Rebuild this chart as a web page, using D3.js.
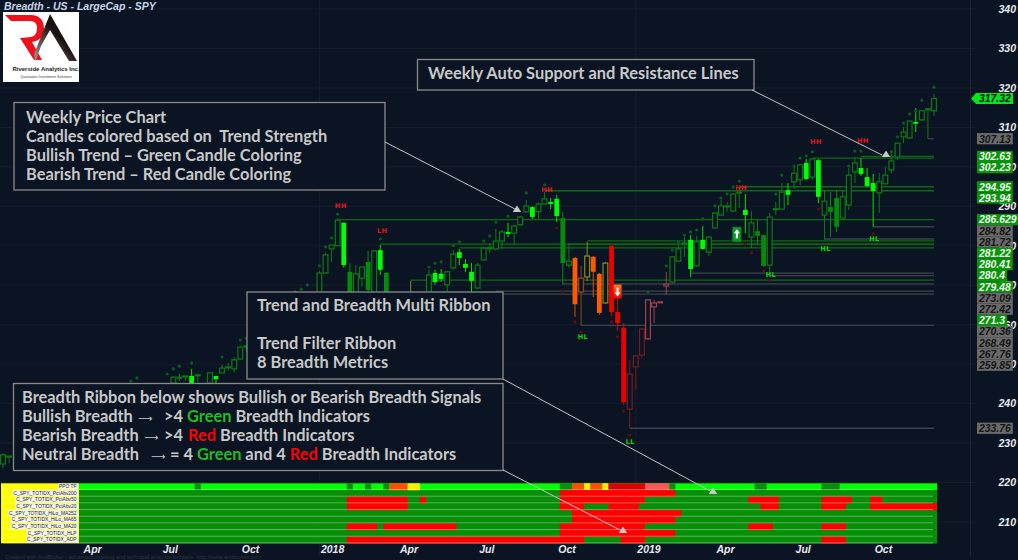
<!DOCTYPE html>
<html><head><meta charset="utf-8">
<style>html,body{margin:0;padding:0;background:#0a1422;overflow:hidden}svg{display:block}</style>
<script src="https://cdn.jsdelivr.net/npm/d3@7/dist/d3.min.js"></script>
</head><body><svg id="c" width="1018" height="560"></svg>
<script>
const firstWeek = "2017-01-02";
const priceTicks = [340,330,320,310,300,290,280,270,260,250,240,230,220,210];
const dateTicks = ["2017-04-03","2017-07-03","2017-10-02","2018-01-01","2018-04-02","2018-07-02","2018-10-01","2018-12-31","2019-04-01","2019-07-01","2019-09-30"];
const dateLabels = ["Apr","Jul","Oct","2018","Apr","Jul","Oct","2019","Apr","Jul","Oct"];

const candleWeeks = [0,1,28,29,30,31,32,34,35,36,37,38,39,40,
 52,53,54,55,56,57,58,59,60,61,62,63,67,
 70,71,72,73,74,75,76,77,78,79,80,81,82,83,84,85,86,87,88,89,90,91,92,93,94,95,96,97,98,99,100,101,102,103,104,105,106,107,108,109,
 110,111,112,113,114,115,116,117,118,119,120,121,122,123,124,125,126,127,128,129,130,131,132,133,134,135,136,137,138,139,140,141,142,143,144,145,146,147,148,149,150,151,152,153];
const opens = [224.7,226.6,245.2,246.6,246.9,247.0,247.2,245.2,247.0,247.8,249.2,248.8,251.3,254.5,
 266.3,273.1,279.2,280.0,285.8,273.4,266.5,271.8,275.9,266.0,278.9,273.1,262.0,
 266.0,273.1,272.9,270.1,274.4,278.4,275.4,273.4,269.3,276.4,279.4,279.2,281.2,283.5,283.2,285.3,288.6,289.8,288.6,290.6,291.1,291.9,287.0,275.1,276.9,268.3,272.1,277.2,272.9,265.5,280.0,263.2,259.2,238.6,249.3,252.3,256.4,264.5,265.7,269.8,
 270.8,276.1,280.6,281.5,274.9,281.5,278.4,284.5,287.8,290.0,288.8,293.4,289.1,282.2,283.7,282.7,275.1,289.3,289.3,294.1,296.2,296.7,301.0,297.4,301.7,287.8,289.8,292.1,287.0,290.3,298.7,299.7,297.4,295.9,293.4,295.7,299.2,302.5,307.6,307.3,311.4,311.9,314.7,314.2];
const closes = [227.0,226.7,246.7,246.7,247.0,245.2,247.3,247.8,246.2,249.0,249.3,251.1,254.3,254.6,
 273.1,277.7,280.2,286.5,275.1,267.0,272.9,274.6,268.8,278.7,273.9,266.5,263.0,
 272.6,270.8,271.6,273.4,277.9,276.9,274.4,271.1,275.1,279.4,279.5,281.2,283.5,283.0,285.0,287.3,290.1,287.3,290.6,291.9,290.6,287.5,275.6,276.1,265.2,271.8,277.4,273.4,263.0,275.6,263.2,260.4,240.4,247.5,252.1,258.9,266.3,265.5,265.8,270.3,
 277.2,279.2,280.7,274.1,281.0,279.2,282.2,288.3,290.1,290.1,293.1,293.6,287.8,285.8,282.5,274.9,287.3,289.4,293.6,292.9,298.4,300.5,296.9,302.0,292.4,291.3,288.6,284.8,292.4,297.9,301.0,298.2,295.1,293.9,296.2,297.9,301.5,306.0,308.8,311.6,310.9,314.2,314.6,317.32];
const highs = [227.5,226.7,247.0,247.5,247.0,248.8,247.3,247.8,247.0,249.8,250.3,251.8,254.8,254.8,
 273.6,278.2,280.2,287.0,286.0,275.6,275.1,274.6,278.7,279.0,280.2,273.4,271.1,
 273.9,273.9,274.1,273.6,278.9,279.2,276.6,275.6,275.6,279.6,280.7,284.3,284.0,285.8,285.3,287.5,291.6,290.0,291.0,293.6,292.1,292.9,288.6,280.7,277.2,274.9,281.0,277.4,273.1,275.9,280.1,268.5,260.4,251.1,252.3,259.0,266.4,266.3,265.8,273.4,
 277.4,280.2,282.2,282.7,282.5,285.0,282.4,288.5,291.6,291.1,293.3,294.6,293.1,288.8,286.8,282.9,288.3,291.1,295.9,295.9,300.0,300.7,302.0,302.2,302.0,294.1,293.6,294.1,293.9,299.7,302.5,302.2,299.7,298.2,298.4,300.0,304.3,306.2,310.1,311.8,314.9,314.4,314.9,318.5];
const lows = [223.7,225.0,245.2,245.7,245.7,245.2,245.2,245.2,245.2,247.8,248.3,248.0,251.1,253.3,
 265.0,273.1,275.9,280.0,274.5,266.0,266.0,269.6,268.0,265.0,272.6,265.0,262.0,
 265.0,270.1,270.8,268.5,273.9,275.1,273.4,268.3,269.0,276.2,278.2,278.9,279.2,282.2,280.2,285.0,288.5,286.8,286.8,290.4,289.3,286.0,270.1,274.4,262.0,259.85,271.1,267.0,262.5,265.3,262.2,258.4,239.7,233.76,243.5,251.6,256.2,260.4,265.7,267.5,
 270.6,275.9,277.2,272.1,274.7,279.0,277.4,284.3,287.6,288.6,288.6,289.6,283.2,279.4,280.4,274.7,272.9,287.8,289.1,290.3,294.4,295.4,296.7,296.7,290.8,281.5,282.2,283.5,286.8,289.1,295.9,297.7,294.9,284.82,288.3,295.5,298.4,301.7,306.0,307.1,308.8,311.7,307.13,312.9];
const candleKinds = ("HHHHHBHHBHHHHH"+"HHHHBDHHDHBD"+"Y"+
 "HBBHHBBBHHHHHBHHHBHHBBDHOoYOOYRRRrrrpppp"+
 "HHHBHBHHHHHH"+"BHDDHHHBHH"+"BHBHDDHHHB"+"BBHHHHHHBHHH").split("");

const riseDotWeeks = [21,22,27,28,29,31,36,39,40,48,49,50,52,53,54,55,62,70,71,72,74,75,79,80,81,83,86,89,106,109,110,111,112,113,114,115,117,118,119,120,121,127,128,130,131,132,133,139,140,141,146,147,148,149,150,151,153];
const riseDotPrices = [245.7,246.5,247.5,248.8,249.5,250.3,251.8,256.1,256.6,268.3,269,270.1,274.9,279.7,282,288,281.7,274.6,275.6,275.9,280,281,281.2,282.5,286,287.5,293.4,295.4,268.3,274.9,278.9,281,282.7,283.5,284,286.8,290.1,292.1,293.1,294.9,296.4,293.1,297.9,300.2,302.2,302.8,303.8,300.2,304,304,303.8,307.6,311.1,313.4,314.2,316.9,320.2];
const fallDotWeeks = [91,92,94,95,100,101,102,103,122,123,125,126,134,135,143];
const fallDotPrices = [284.5,268.5,260.7,258.2,260.7,256.9,238.1,232,280.4,278.2,273.6,271.3,289.3,280,283];

const pivotTexts = ["HH","LH","HH","HH","HH","HH","HL","HL","HL","HL","LL"];
const pivotWeeks = [55.5,62.3,89.4,121.3,133.6,141.3,135.2,143.2,126.2,95.3,103.1];
const pivotPrices = [290.4,284.1,294.3,294.9,306.6,306.9,279.4,281.9,272.9,257.2,230.4];

const levelPrices = [302.63,302.23,294.95,293.94,286.629,281.22,280.41,280.4,279.48,271.3,307.13,284.82,281.72,273.09,272.42,270.36,268.49,267.76,259.85,233.76];
const levelStarts = [141,133,121,89,55,96,62,93,75,67,152,143,135,113,126,92,81,81,95,103];
const levelKinds = ["up","up","up","up","up","up","up","up","up","up","dn","dn","dn","dn","dn","dn","dn","dn","dn","dn"];
const tagTexts = ["307.13","302.63","302.23","294.95","293.94","286.629","284.82","281.72","281.22","280.41","280.4","279.48","273.09","272.42","271.3","270.36","268.49","267.76","259.85","233.76"];
const tagKinds = ["dn","up","up","up","up","up","dn","dn","up","up","up","up","dn","dn","up","dn","dn","dn","dn","dn"];
const lastPrice = 317.32;

const ribbonRows = ["PPO TF","C_SPY_TOTIDX_PctAbv200","C_SPY_TOTIDX_PctAbv50","C_SPY_TOTIDX_PctAbv20","C_SPY_TOTIDX_HiLo_MA252","C_SPY_TOTIDX_HiLo_MA65","C_SPY_TOTIDX_HiLo_MA20","C_SPY_TOTIDX_HLP","C_SPY_TOTIDX_ADP"];
const trendFrom = [32,57,60,63,64,67,92,94,96,97,99,100,106,110,124,135];
const trendTo   = [32,57,60,63,66,68,93,95,96,98,99,105,109,110,125,137];
const trendKind = ["dark","dark","dark","dark","orange","yellow","dark","orange","yellow","orange","yellow","red","pink","dark","dark","dark"];
const redSpans = [
 [],
 [[92,110]],
 [[57,66],[69,69],[92,105],[123,127],[135,139],[143,144]],
 [[57,66],[92,95],[100,104],[125,127],[135,138],[143,153]],
 [[94,111]],
 [[94,110]],
 [[57,61],[63,74],[92,105],[123,126],[135,138]],
 [[92,110]],
 [[57,95],[102,105],[135,138]]
];
const ribbonWeeks = [12.5,153.5];

const svg = d3.select("#c");
const defs = svg.append("defs");
const logoGrad = defs.append("linearGradient").attr("id","lg").attr("x1","0").attr("y1","1").attr("x2","1").attr("y2","0");
logoGrad.append("stop").attr("offset","0").attr("stop-color","#a89a90");
logoGrad.append("stop").attr("offset","0.55").attr("stop-color","#1a1010");
const arrowGrad = defs.append("linearGradient").attr("id","dg").attr("x1","0").attr("y1","0").attr("x2","0").attr("y2","1");
arrowGrad.append("stop").attr("offset","0").attr("stop-color","#ff7a20");
arrowGrad.append("stop").attr("offset","1").attr("stop-color","#ee0000");

const start = d3.isoParse(firstWeek);
const weekDate = w => new Date(+start + w*7*864e5);
const x = d3.scaleUtc().domain([weekDate(0),weekDate(153)]).range([3,934]);
const y = d3.scaleLinear().domain([210,340]).range([522,9]);
const xw = w => x(weekDate(w));
const labelFont = "'Liberation Sans',Arial,sans-serif";

// grid
svg.append("g").selectAll("line").data(priceTicks).join("line")
 .attr("x1",0).attr("x2",975).attr("y1",d=>y(d)).attr("y2",d=>y(d)).attr("stroke","#151e2b");
svg.append("g").selectAll("line").data(["2018-01-01","2018-12-31"]).join("line")
 .attr("x1",d=>x(d3.isoParse(d))).attr("x2",d=>x(d3.isoParse(d))).attr("y1",0).attr("y2",556).attr("stroke","#151e2b");
svg.append("line").attr("x1",970.5).attr("x2",970.5).attr("y1",0).attr("y2",556).attr("stroke","#1a2330");

// levels
svg.append("g").selectAll("line").data(levelPrices).join("line")
 .attr("x1",(d,i)=>xw(levelStarts[i])).attr("x2",xw(153)).attr("y1",d=>y(d)).attr("y2",d=>y(d))
 .attr("stroke",(d,i)=>levelKinds[i]==="up"?"#0b6a12":"#3c424c").attr("stroke-width",1.3);

// candles
const stroke = {H:"#0c7a14",B:"#00e000",D:"#078a0c",O:"#e04a00",o:"#8a4a20",Y:"#8a8a20",R:"#e00000",r:"#7a1a22",p:"#a04050"};
const fill = {B:"#00ff00",D:"#078a0c",O:"#ff5a00",R:"#ee0000"};
const cg = svg.append("g").selectAll("g").data(candleWeeks).join("g");
cg.append("line").attr("x1",d=>xw(d)).attr("x2",d=>xw(d))
 .attr("y1",(d,i)=>y(highs[i])).attr("y2",(d,i)=>y(lows[i]))
 .attr("stroke",(d,i)=>stroke[candleKinds[i]]).attr("stroke-width",1);
cg.append("rect").attr("x",d=>xw(d)-2.4).attr("width",4.8)
 .attr("y",(d,i)=>y(Math.max(opens[i],closes[i])))
 .attr("height",(d,i)=>Math.max(1,Math.abs(y(opens[i])-y(closes[i]))))
 .attr("fill",(d,i)=>fill[candleKinds[i]]||"#0a1422")
 .attr("stroke",(d,i)=>fill[candleKinds[i]]?"none":stroke[candleKinds[i]]).attr("stroke-width",1.2);

// pivot dots
svg.append("g").selectAll("circle").data(riseDotWeeks).join("circle")
 .attr("cx",d=>xw(d)).attr("cy",(d,i)=>y(riseDotPrices[i])).attr("r",1.6).attr("fill","#0b5a1e");
svg.append("g").selectAll("circle").data(fallDotWeeks).join("circle")
 .attr("cx",d=>xw(d)).attr("cy",(d,i)=>y(fallDotPrices[i])).attr("r",1.6).attr("fill","#5e0f16");

// pivot labels
svg.append("g").selectAll("text").data(pivotTexts).join("text")
 .attr("x",(d,i)=>xw(pivotWeeks[i])).attr("y",(d,i)=>y(pivotPrices[i])+3).attr("text-anchor","middle")
 .attr("font-family","'DejaVu Sans',sans-serif").attr("font-weight","bold").attr("font-size",6.5).attr("letter-spacing",0.4)
 .attr("fill",d=>d[1]==="H"?"#f01018":"#00dd00").text(d=>d);

// signal markers
function signal(week,price,col,up){
 const cx=xw(week),cy=y(price);
 svg.append("rect").attr("x",cx-4).attr("y",cy-7).attr("width",8).attr("height",14).attr("fill",col).attr("stroke",up?"#0b8a20":"none");
 const s=up?-1:1;
 svg.append("path").attr("fill","#fff").attr("d",`M${cx},${cy+s*5} L${cx-3},${cy+s*1} L${cx-1},${cy+s*1} L${cx-1},${cy-s*4} L${cx+1},${cy-s*4} L${cx+1},${cy+s*1} L${cx+3},${cy+s*1} Z`);
}
signal(120.6,282.9,"#0a9a2a",true);
signal(101,268.4,"url(#dg)",false);

// axis labels
const yAxis = d3.axisRight(y).tickValues(priceTicks).tickSize(0).tickFormat(d3.format("d"));
const ya = svg.append("g").attr("transform","translate(1016,0)").call(yAxis);
ya.select(".domain").remove();
ya.selectAll("text").attr("x",0).attr("text-anchor","end").attr("fill","#e8ecf0").attr("font-family",labelFont)
 .attr("font-size",10.5).attr("font-style","italic").attr("font-weight","bold");
const xAxis = d3.axisBottom(x).tickValues(dateTicks.map(d=>d3.isoParse(d))).tickSize(0).tickFormat((d,i)=>dateLabels[i]);
const xa = svg.append("g").attr("transform","translate(0,544)").call(xAxis);
xa.select(".domain").remove();
xa.selectAll("text").attr("x",1).attr("y",8.8).attr("dy",0).attr("text-anchor","start")
 .attr("fill","#e8ecf0").attr("font-family",labelFont).attr("font-size",10.5).attr("font-style","italic").attr("font-weight","bold");

// annotation boxes
const boxFont = "Lato,'Open Sans',sans-serif";
const boxSize = 16.4;
function box(x0,y0,x1,y1){svg.append("rect").attr("x",x0).attr("y",y0).attr("width",x1-x0).attr("height",y1-y0).attr("fill","#0a1422").attr("stroke","#8a8a8a").attr("stroke-width",1.3);}
function txt(xp,yp){return svg.append("text").attr("x",xp).attr("y",yp).attr("xml:space","preserve").style("white-space","pre").attr("font-family",boxFont).attr("font-weight","bold").attr("font-size",boxSize).attr("fill","#c8c8c8");}
box(417.5,59.5,754,90); txt(428,79).text("Weekly Auto Support and Resistance Lines");
box(14,102.5,385,190);
["Weekly Price Chart","Candles colored based on  Trend Strength","Bullish Trend – Green Candle Coloring","Bearish Trend – Red Candle Coloring"].forEach((t,i)=>txt(26,122.5+i*19).text(t));
box(247,292,503,379);
txt(257,311).text("Trend and Breadth Multi Ribbon");
txt(257,349).text("Trend Filter Ribbon");
txt(257,368).text("8 Breadth Metrics");
box(13.5,383.5,503,470.5);
txt(22,402.5).text("Breadth Ribbon below shows Bullish or Bearish Breadth Signals");
function arrowSpan(t,xp){t.append("tspan").attr("x",xp).attr("font-family","'DejaVu Sans',sans-serif").attr("font-weight","normal").attr("font-size",10).text("⟶");}
const c1="#22bb22",c2="#ff0000";
let t=txt(22,421.5); t.append("tspan").text("Bullish Breadth"); arrowSpan(t,138);
t.append("tspan").attr("x",164).text(">4 "); t.append("tspan").attr("fill",c1).text("Green"); t.append("tspan").text(" Breadth Indicators");
t=txt(22,440.5); t.append("tspan").text("Bearish Breadth"); arrowSpan(t,144);
t.append("tspan").attr("x",164).text(">4 "); t.append("tspan").attr("x",188).attr("fill",c2).text("Red"); t.append("tspan").text(" Breadth Indicators");
t=txt(22,459.5); t.append("tspan").text("Neutral Breadth"); arrowSpan(t,151);
t.append("tspan").attr("x",170).text("= 4 "); t.append("tspan").attr("fill",c1).text("Green"); t.append("tspan").text(" and 4 "); t.append("tspan").attr("fill",c2).text("Red"); t.append("tspan").text(" Breadth Indicators");

// ribbon
const rowY = d3.scaleBand().domain(d3.range(ribbonRows.length)).range([483.3,543.3]);
const rh = rowY.bandwidth();
const rg = svg.append("g");
rg.append("rect").attr("x",1).attr("y",483.3).attr("width",78).attr("height",60).attr("fill","#ffff00");
const rx0=xw(ribbonWeeks[0]),rx1=xw(ribbonWeeks[1]);
rg.selectAll("rect.base").data(ribbonRows).join("rect").attr("class","base").attr("x",rx0).attr("width",rx1-rx0)
 .attr("y",(d,i)=>rowY(i)).attr("height",rh+0.3).attr("fill",(d,i)=>i===0?"#00ff00":"#078f07");
const trendCol={dark:"#078f07",orange:"#ff5000",yellow:"#ffee00",red:"#dd0000",pink:"#ff5555"};
rg.selectAll("rect.tr").data(trendFrom).join("rect").attr("class","tr").attr("x",d=>xw(d-0.5))
 .attr("width",(d,i)=>xw(trendTo[i]+0.5)-xw(d-0.5)).attr("y",rowY(0)).attr("height",rh+0.3).attr("fill",(d,i)=>trendCol[trendKind[i]]);
redSpans.forEach((spans,r)=>{
 rg.selectAll("rect.r"+r).data(spans).join("rect").attr("class","r"+r).attr("x",d=>xw(d[0]-0.5))
  .attr("width",d=>xw(d[1]+0.5)-xw(d[0]-0.5)).attr("y",rowY(r)).attr("height",rh+0.3).attr("fill","#ff0000");
});
rg.selectAll("line").data(ribbonRows).join("line").attr("x1",3).attr("x2",933)
 .attr("y1",(d,i)=>rowY(i)+rh-0.4).attr("y2",(d,i)=>rowY(i)+rh-0.4).attr("stroke","#ffffff").attr("stroke-opacity",0.35).attr("stroke-width",1);
const rowTexts = rg.selectAll("text").data(ribbonRows).join("text").attr("x",76.5).attr("y",(d,i)=>rowY(i)+4.8)
 .attr("text-anchor","end").attr("font-family",labelFont).attr("font-size",4.9).attr("fill","#222").text(d=>d);
rowTexts.each(function(d,i){
 const b=this.getBBox();
 rg.insert("rect","text").attr("x",b.x-1).attr("y",rowY(i)+0.2).attr("width",b.width+2.5).attr("height",rh-1).attr("fill","#f4f4f4");
});

// callout arrows
const arrows = [[752,90,882,155,886,157],[385,142,517,210,517,212],[503,379,712,492,713,494],[503,470,622,531,623,533]];
arrows.forEach(a=>{
 svg.append("line").attr("x1",a[0]).attr("y1",a[1]).attr("x2",a[2]).attr("y2",a[3]).attr("stroke","#c4c4c4").attr("stroke-width",1);
 svg.append("path").attr("d",`M${a[4]},${a[5]-6.5} L${a[4]+4.2},${a[5]} L${a[4]-4.2},${a[5]} Z`).attr("fill","#c8c8c8");
});

// price tags (stacked downward so they do not overlap)
let prevY=-99;
tagTexts.forEach((s,i)=>{
 let cy=y(+s); cy=Math.max(cy,prevY+11.2); if(s==="233.76")cy=y(+s); prevY=cy;
 const up=tagKinds[i]==="up";
 const g=svg.append("g");
 const tx=g.append("text").attr("x",979).attr("y",cy+3.8).attr("font-family",labelFont).attr("font-size",10.4).attr("font-style","italic").attr("font-weight","bold")
  .attr("fill",up?"#f2f2f2":"#151515").text(s);
 const w=tx.node().getComputedTextLength();
 g.insert("rect","text").attr("x",977).attr("y",cy-5.6).attr("width",w+4).attr("height",11.2).attr("fill",up?"#069606":"#6a6a6a");
});
const ly=y(lastPrice);
svg.append("path").attr("d",`M971,${ly} L976,${ly-5.6} L1013,${ly-5.6} L1013,${ly+5.6} L976,${ly+5.6} Z`).attr("fill","#00e81c");
svg.append("text").attr("x",979).attr("y",ly+3.8).attr("font-family",labelFont).attr("font-size",10.4).attr("font-style","italic").attr("font-weight","bold").attr("fill","#111").text(lastPrice.toFixed(2));

// title + logo + footer
svg.append("text").attr("x",4).attr("y",9.5).attr("font-family",labelFont).attr("font-size",10.5).attr("font-style","italic").attr("font-weight","bold").attr("fill","#c9d6ea").text("Breadth - US - LargeCap - SPY");
const lg=svg.append("g");
lg.append("rect").attr("x",3).attr("y",12).attr("width",76).attr("height",70).attr("fill","#fff");
lg.append("path").attr("fill","#f0101c").attr("d","M5,15 L32,15 Q44,16 44,29 Q44,40 32,42 L42,60 L34,60 L20,38 L31,37 Q37,36 37,28 Q37,21 30,21 L11,21 Z");
lg.append("path").attr("fill","url(#lg)").attr("d","M50,14 L77,61 L69,61 L50,30 L41,46 L36,60 L35,61 L34,54 Z");
lg.append("text").attr("x",46).attr("y",71).attr("text-anchor","middle").attr("font-family","'Liberation Sans Narrow','Liberation Sans',sans-serif").attr("font-weight","bold").attr("font-size",6).attr("fill","#222").text("Riverside Analytics Inc.");
lg.append("text").attr("x",46).attr("y",78).attr("text-anchor","middle").attr("font-family",labelFont).attr("font-size",3.6).attr("fill","#444").text("Quantative Investment Solutions");
svg.append("text").attr("x",5).attr("y",559).attr("font-family",labelFont).attr("font-size",5.6).attr("fill","#2c3440").text("Created with AmiBroker - advanced charting and technical analysis software. http://www.amibroker.com");
if(candleKinds.length!==candleWeeks.length||opens.length!==candleWeeks.length||closes.length!==candleWeeks.length||highs.length!==candleWeeks.length||lows.length!==candleWeeks.length)throw new Error([candleWeeks.length,candleKinds.length,opens.length,closes.length,highs.length,lows.length].join());
</script></body></html>
